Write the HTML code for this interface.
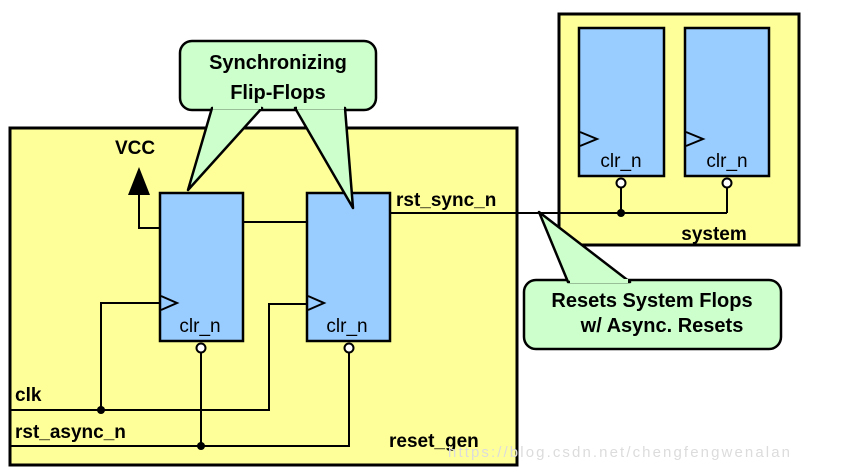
<!DOCTYPE html>
<html><head><meta charset="utf-8"><style>
html,body{margin:0;padding:0;background:#fff;}
svg{display:block;}
text{font-family:"Liberation Sans",Arial,sans-serif;}
</style></head><body>
<svg width="851" height="475" viewBox="0 0 851 475" xmlns="http://www.w3.org/2000/svg">
<rect x="559" y="14" width="240" height="231" fill="#ffff99" stroke="#000" stroke-width="3"/>
<rect x="579" y="28" width="85" height="148" fill="#99ccff" stroke="#000" stroke-width="2.5"/>
<rect x="685" y="28" width="84" height="148" fill="#99ccff" stroke="#000" stroke-width="2.5"/>
<polyline points="580,132 597,139 580,146" fill="none" stroke="#000" stroke-width="2"/>
<polyline points="686,132 703,139 686,146" fill="none" stroke="#000" stroke-width="2"/>
<text x="621" y="167" font-size="19" text-anchor="middle">clr_n</text>
<text x="727" y="167" font-size="19" text-anchor="middle">clr_n</text>
<line x1="621" y1="187" x2="621" y2="213" stroke="#000" stroke-width="2"/>
<line x1="727" y1="187" x2="727" y2="213" stroke="#000" stroke-width="2"/>
<circle cx="621" cy="183" r="4.5" fill="#fff" stroke="#000" stroke-width="2"/>
<circle cx="727" cy="183" r="4.5" fill="#fff" stroke="#000" stroke-width="2"/>
<circle cx="621" cy="213" r="4" fill="#000"/>
<text x="714" y="240" font-size="19" font-weight="bold" text-anchor="middle">system</text>

<rect x="10" y="128" width="507" height="337" fill="#ffff99" stroke="#000" stroke-width="3"/>

<g stroke="#000" stroke-width="2" fill="none">
<line x1="390" y1="213" x2="727" y2="213"/>
<line x1="243" y1="222" x2="307" y2="222"/>
<polyline points="160,228 139,228 139,193"/>
<polyline points="10,410 269,410 269,304 307,304"/>
<polyline points="101,410 101,303 160,303"/>
<polyline points="10,446 349,446 349,353"/>
<line x1="201" y1="446" x2="201" y2="353"/>
</g>
<polygon points="139,167 128,195 150,195" fill="#000"/>
<circle cx="101" cy="410" r="4" fill="#000"/>
<circle cx="201" cy="446" r="4" fill="#000"/>

<rect x="160" y="193" width="83" height="148" fill="#99ccff" stroke="#000" stroke-width="2.5"/>
<rect x="307" y="193" width="83" height="148" fill="#99ccff" stroke="#000" stroke-width="2.5"/>
<polyline points="161,296 177,303 161,310" fill="none" stroke="#000" stroke-width="2"/>
<polyline points="308,296 324,303 308,310" fill="none" stroke="#000" stroke-width="2"/>
<text x="200" y="332" font-size="19" text-anchor="middle">clr_n</text>
<text x="347" y="332" font-size="19" text-anchor="middle">clr_n</text>
<circle cx="201" cy="348" r="4.5" fill="#fff" stroke="#000" stroke-width="2"/>
<circle cx="349" cy="348" r="4.5" fill="#fff" stroke="#000" stroke-width="2"/>

<text x="115" y="154" font-size="19" font-weight="bold">VCC</text>
<text x="396" y="206" font-size="19" font-weight="bold">rst_sync_n</text>
<text x="15" y="401" font-size="19" font-weight="bold">clk</text>
<text x="15" y="438" font-size="19" font-weight="bold">rst_async_n</text>
<text x="389" y="447" font-size="19" font-weight="bold">reset_gen</text>

<rect x="180" y="41" width="196" height="69" rx="12" fill="#ccffcc" stroke="#000" stroke-width="2.5"/>
<polygon points="212,108 188,190 262,108" fill="#ccffcc" stroke="#000" stroke-width="2.5" stroke-linejoin="round"/>
<polygon points="295,108 353,208 345,108" fill="#ccffcc" stroke="#000" stroke-width="2.5" stroke-linejoin="round"/>
<rect x="213" y="106" width="48" height="3" fill="#ccffcc"/>
<rect x="297" y="106" width="47" height="3" fill="#ccffcc"/>
<text x="278" y="69" font-size="20" font-weight="bold" text-anchor="middle">Synchronizing</text>
<text x="278" y="99" font-size="20" font-weight="bold" text-anchor="middle">Flip-Flops</text>

<rect x="524" y="280" width="257" height="69" rx="12" fill="#ccffcc" stroke="#000" stroke-width="2.5"/>
<polygon points="568,282 539,212 630,282" fill="#ccffcc" stroke="#000" stroke-width="2.5" stroke-linejoin="round"/>
<rect x="570" y="279" width="58" height="4" fill="#ccffcc"/>
<text x="652" y="307" font-size="20" font-weight="bold" text-anchor="middle">Resets System Flops</text>
<text x="662" y="332" font-size="20" font-weight="bold" text-anchor="middle">w/ Async. Resets</text>

<text x="448" y="457" font-size="15" fill="#dcdcdc" textLength="342" lengthAdjust="spacing">https://blog.csdn.net/chengfengwenalan</text>
</svg>
</body></html>
